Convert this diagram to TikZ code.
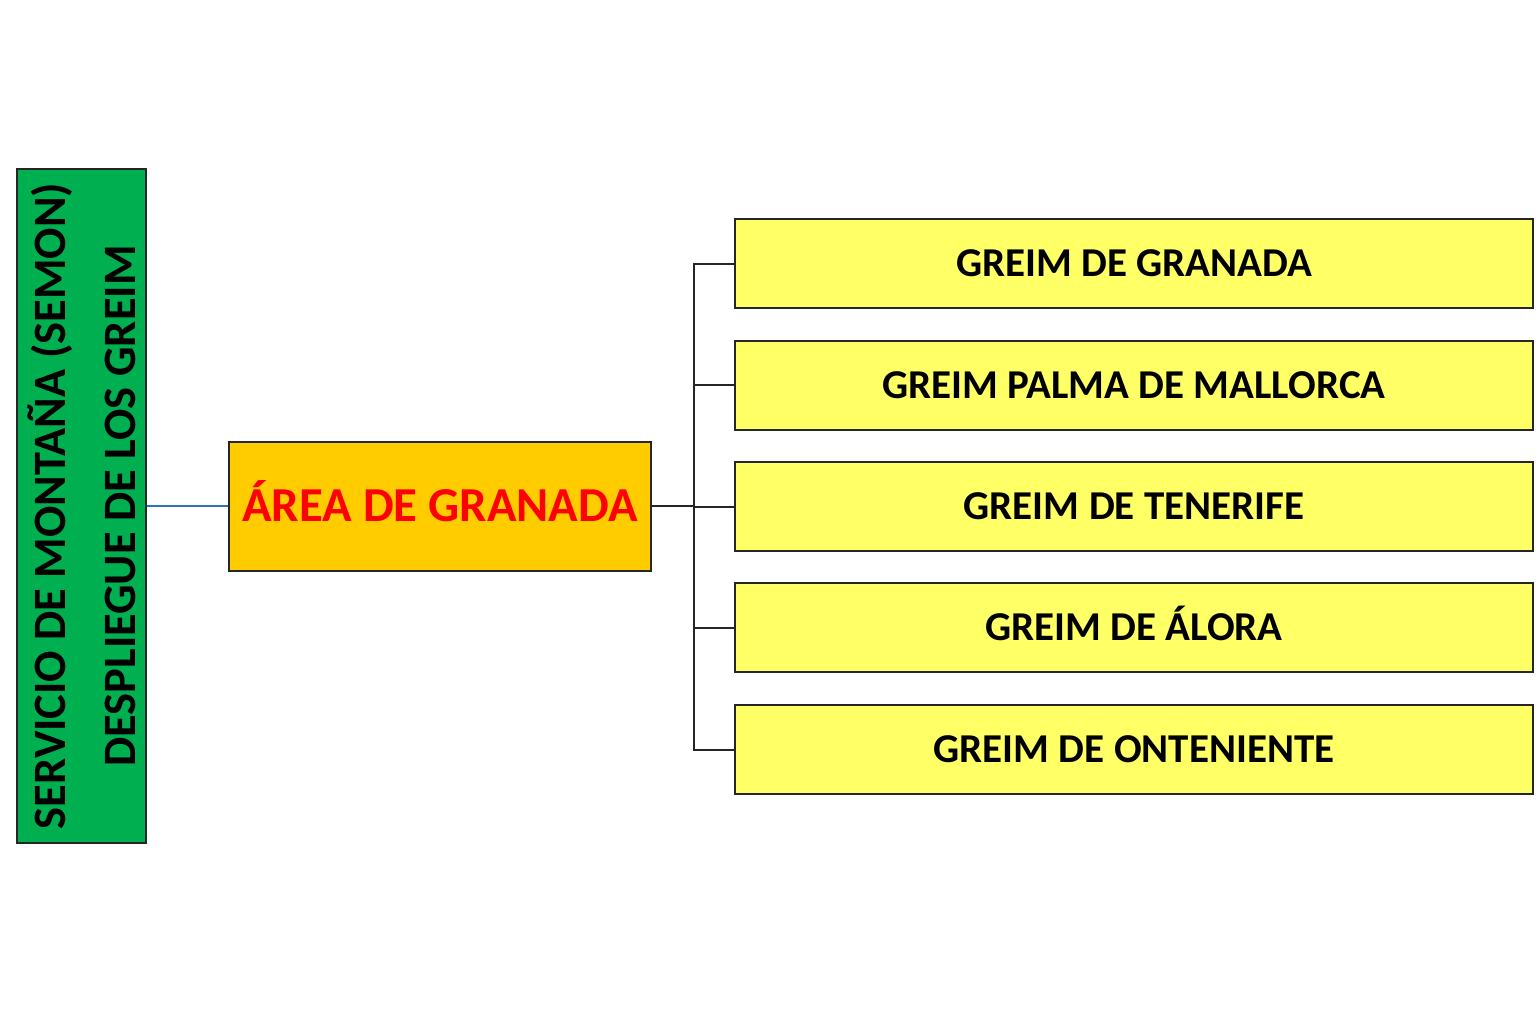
\documentclass[tikz,border=0pt]{standalone}
\usepackage{fontspec}
\setmainfont{Carlito}
\usepackage{tikz}
\usetikzlibrary{positioning}
\definecolor{sgreen}{HTML}{00B050}
\definecolor{sorange}{HTML}{FFCC00}
\definecolor{syellow}{HTML}{FFFF66}
\definecolor{sred}{HTML}{FF0000}
\definecolor{sblue}{HTML}{2E75B6}
\definecolor{sline}{HTML}{262626}
\tikzset{
  headbox/.style={draw=sline, fill=sgreen, line width=1pt, rotate=90,
                  minimum width=337pt, minimum height=64.5pt, inner sep=0pt,
                  align=center, font=\fontsize{23.2}{35}\selectfont\bfseries},
  areabox/.style={draw=sline, fill=sorange, line width=1pt,
                  minimum width=211pt, minimum height=64.5pt, inner sep=0pt,
                  text height=15.7pt, text depth=0pt,
                  text=sred, font=\fontsize{24.4}{30}\selectfont\bfseries},
  greimbox/.style={draw=sline, fill=syellow, line width=1pt,
                   minimum width=399pt, minimum height=44.5pt, inner sep=0pt,
                   text height=13.2pt, text depth=0pt,
                   font=\fontsize{20.5}{24}\selectfont\bfseries},
  link/.style={line width=1pt, sline},
}
\begin{document}
\begin{tikzpicture}[x=0.5pt, y=-0.5pt]
  \useasboundingbox (0,0) rectangle (1536,1012);

  %% Left heading
  \node[headbox] (semon) at (81.5,506)
    {SERVICIO DE MONTAÑA (SEMON)\\DESPLIEGUE DE LOS GREIM};

  %% Area
  \node[areabox] (area) at (440,506) {ÁREA DE GRANADA};
  \draw[sblue, line width=0.8pt] (semon.south) -- (area.west);

  %% GREIM boxes
  \foreach \i/\y/\lbl in {1/263.5/GREIM DE GRANADA, 2/385/GREIM PALMA DE MALLORCA,
      3/506.5/GREIM DE TENERIFE, 4/627.5/GREIM DE ÁLORA, 5/749.5/GREIM DE ONTENIENTE}{
    \node[greimbox] (g\i) at (1134,\y) {\lbl};
  }

  %% Tree connectors
  \path (area.east) ++(42,0) coordinate (bus);
  \draw[link] (area.east) -- (bus);
  \foreach \i in {1,...,5}{
    \draw[link] (bus) |- (g\i.west);
  }
\end{tikzpicture}
\end{document}
